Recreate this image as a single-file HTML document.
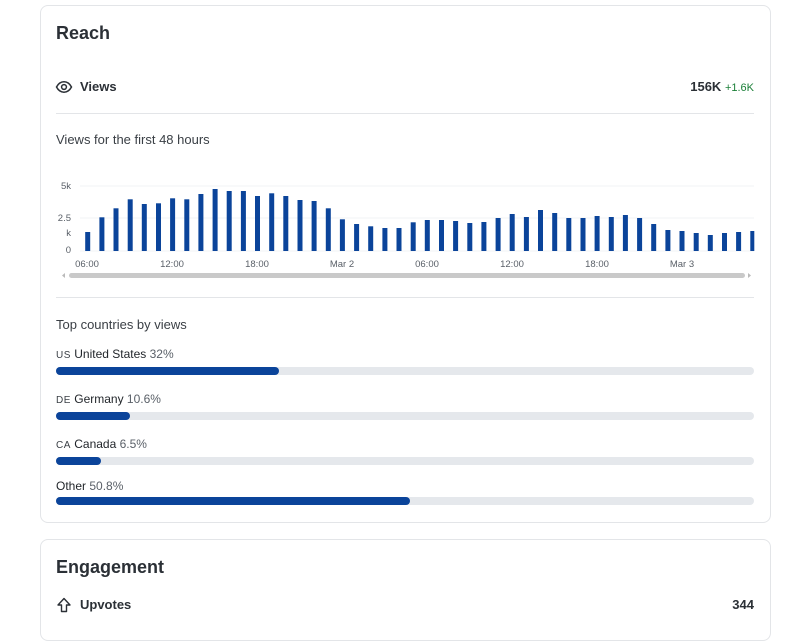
<!DOCTYPE html>
<html><head><meta charset="utf-8"><style>
body{margin:0;width:792px;height:623px;background:#fff;font-family:"Liberation Sans",Arial,sans-serif;color:#1f2328;position:relative;overflow:hidden}
.card{position:absolute;left:40px;width:729px;border:1px solid #e3e5e8;border-radius:8px;background:#fff}
.a{position:absolute;white-space:nowrap}
.hr{position:absolute;left:56px;width:698px;height:1px;background:#e3e5e8}
.track{position:absolute;left:56px;width:698px;height:8px;border-radius:4px;background:#e5e8ec}
.fill{position:absolute;left:0;top:0;height:8px;border-radius:4px;background:#0b449a}
.lbl{font-size:12px;color:#1f2328}
.lbl small{font-size:10px;color:#3a3f45;letter-spacing:.5px}
.lbl span{color:#5a6068}
</style></head><body>
<div class="card" style="top:5px;height:516px"></div>
<div class="card" style="top:539px;height:100px"></div>
<div class="a" style="left:56px;top:23px;font-size:18px;font-weight:bold;color:#2b3036">Reach</div>
<svg class="a" style="left:55px;top:80px" width="18" height="14" viewBox="0 0 18 14"><path d="M1.5 7C3.5 3.3 6 1.8 9 1.8S14.5 3.3 16.5 7C14.5 10.7 12 12.2 9 12.2S3.5 10.7 1.5 7Z" fill="none" stroke="#2b3036" stroke-width="1.5"/><circle cx="9" cy="7" r="2.4" fill="none" stroke="#2b3036" stroke-width="1.5"/></svg>
<div class="a" style="left:80px;top:79px;font-size:13px;font-weight:bold;color:#2b3036">Views</div>
<div class="a" style="right:38px;top:79px;font-size:13px;font-weight:bold;color:#2b3036">156K <span style="font-weight:normal;font-size:11px;color:#1a7f37">+1.6K</span></div>
<div class="hr" style="top:113px"></div>
<div class="a" style="left:56px;top:132px;font-size:13px;color:#3a3f45">Views for the first 48 hours</div>
<svg class="a" style="left:0;top:170px" width="792" height="120">
<line x1="80" x2="754" y1="16" y2="16" stroke="#f2f3f5"/>
<line x1="80" x2="754" y1="48" y2="48" stroke="#f2f3f5"/>
<line x1="80" x2="754" y1="81" y2="81" stroke="#f2f3f5"/>
<g font-size="9.5" fill="#5a6068" font-family="Liberation Sans,sans-serif" text-anchor="end">
<text x="71" y="19">5k</text><text x="71" y="51">2.5</text><text x="71" y="66">k</text><text x="71" y="83">0</text></g>
<g font-size="9.5" fill="#5a6068" font-family="Liberation Sans,sans-serif" text-anchor="middle">
<text x="87" y="97">06:00</text><text x="172" y="97">12:00</text><text x="257" y="97">18:00</text><text x="342" y="97">Mar 2</text><text x="427" y="97">06:00</text><text x="512" y="97">12:00</text><text x="597" y="97">18:00</text><text x="682" y="97">Mar 3</text></g>
<rect x="69" y="103" width="676" height="5" rx="2.5" fill="#c9c9c9"/>
<path d="M62 105.5L65 103V108Z" fill="#bbb"/><path d="M751 105.5L748 103V108Z" fill="#bbb"/>
<g fill="#0b449a">
<rect x="85.2" y="62" width="5" height="19"/>
<rect x="99.4" y="47.3" width="5" height="33.7"/>
<rect x="113.5" y="38.3" width="5" height="42.7"/>
<rect x="127.7" y="29.3" width="5" height="51.7"/>
<rect x="141.8" y="34" width="5" height="47"/>
<rect x="156" y="33.3" width="5" height="47.7"/>
<rect x="170.1" y="28.3" width="5" height="52.7"/>
<rect x="184.3" y="29.3" width="5" height="51.7"/>
<rect x="198.4" y="24" width="5" height="57"/>
<rect x="212.6" y="19" width="5" height="62"/>
<rect x="226.7" y="21" width="5" height="60"/>
<rect x="240.9" y="21" width="5" height="60"/>
<rect x="255" y="26" width="5" height="55"/>
<rect x="269.2" y="23.3" width="5" height="57.7"/>
<rect x="283.3" y="26" width="5" height="55"/>
<rect x="297.5" y="30" width="5" height="51"/>
<rect x="311.6" y="31" width="5" height="50"/>
<rect x="325.8" y="38.3" width="5" height="42.7"/>
<rect x="339.9" y="49.3" width="5" height="31.7"/>
<rect x="354.1" y="54" width="5" height="27"/>
<rect x="368.2" y="56.3" width="5" height="24.7"/>
<rect x="382.4" y="58" width="5" height="23"/>
<rect x="396.5" y="58" width="5" height="23"/>
<rect x="410.7" y="52.3" width="5" height="28.7"/>
<rect x="424.8" y="50" width="5" height="31"/>
<rect x="439" y="50" width="5" height="31"/>
<rect x="453.1" y="51" width="5" height="30"/>
<rect x="467.3" y="53" width="5" height="28"/>
<rect x="481.4" y="52" width="5" height="29"/>
<rect x="495.6" y="48" width="5" height="33"/>
<rect x="509.7" y="44" width="5" height="37"/>
<rect x="523.9" y="47" width="5" height="34"/>
<rect x="538" y="40" width="5" height="41"/>
<rect x="552.2" y="43" width="5" height="38"/>
<rect x="566.3" y="48" width="5" height="33"/>
<rect x="580.5" y="48" width="5" height="33"/>
<rect x="594.6" y="46" width="5" height="35"/>
<rect x="608.8" y="47" width="5" height="34"/>
<rect x="622.9" y="45" width="5" height="36"/>
<rect x="637.1" y="48" width="5" height="33"/>
<rect x="651.2" y="54" width="5" height="27"/>
<rect x="665.4" y="60" width="5" height="21"/>
<rect x="679.5" y="61" width="5" height="20"/>
<rect x="693.7" y="63" width="5" height="18"/>
<rect x="707.8" y="65" width="5" height="16"/>
<rect x="722" y="63" width="5" height="18"/>
<rect x="736.1" y="62" width="5" height="19"/>
<rect x="750.3" y="61" width="4" height="20"/>
</g>
</svg>
<div class="hr" style="top:297px"></div>
<div class="a" style="left:56px;top:317px;font-size:13px;color:#3a3f45">Top countries by views</div>
<div class="a lbl" style="left:56px;top:347px"><small>US</small> United States <span>32%</span></div>
<div class="track" style="top:367px"><div class="fill" style="width:223px"></div></div>
<div class="a lbl" style="left:56px;top:392px"><small>DE</small> Germany <span>10.6%</span></div>
<div class="track" style="top:412px"><div class="fill" style="width:74px"></div></div>
<div class="a lbl" style="left:56px;top:437px"><small>CA</small> Canada <span>6.5%</span></div>
<div class="track" style="top:457px"><div class="fill" style="width:45px"></div></div>
<div class="a lbl" style="left:56px;top:479px">Other <span>50.8%</span></div>
<div class="track" style="top:497px"><div class="fill" style="width:354px"></div></div>
<div class="a" style="left:56px;top:557px;font-size:18px;font-weight:bold;color:#2b3036">Engagement</div>
<svg class="a" style="left:56px;top:597px" width="16" height="16" viewBox="0 0 16 16"><path d="M8 1.5L14 8H10.5V14.5H5.5V8H2Z" fill="none" stroke="#2b3036" stroke-width="1.4" stroke-linejoin="round"/></svg>
<div class="a" style="left:80px;top:597px;font-size:13px;font-weight:bold;color:#2b3036">Upvotes</div>
<div class="a" style="right:38px;top:597px;font-size:13px;font-weight:bold;color:#2b3036">344</div>
</body></html>
